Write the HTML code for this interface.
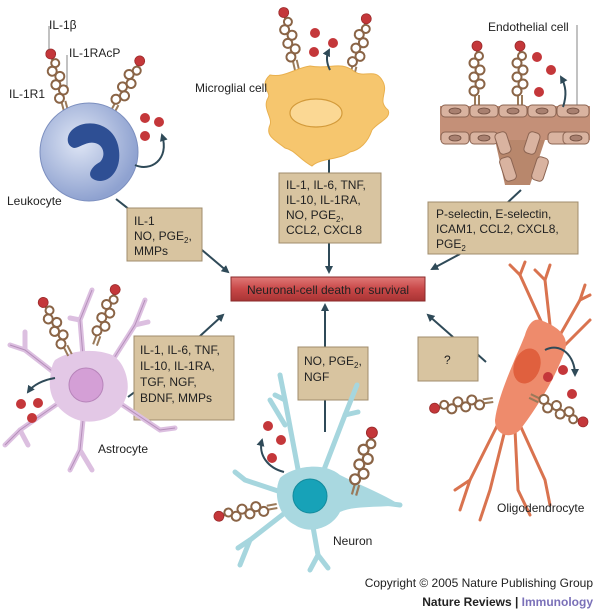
<!DOCTYPE html>
<html><head><meta charset="utf-8"><style>
html,body{margin:0;padding:0;background:#fff}
svg{display:block}
text{font-family:"Liberation Sans",sans-serif;fill:#222}
</style></head><body>
<svg width="600" height="616" viewBox="0 0 600 616" xmlns="http://www.w3.org/2000/svg">
<defs>
<g id="rc">
<line x1="-2" y1="0" x2="-2" y2="-10" stroke="#9a7a5a" stroke-width="2"/>
<line x1="2" y1="0" x2="2" y2="-10" stroke="#9a7a5a" stroke-width="2"/>
<g fill="#fff" stroke="#8a6446" stroke-width="2">
<circle cx="-3" cy="-14" r="4.5"/><circle cx="3" cy="-21" r="4.5"/>
<circle cx="-3" cy="-28" r="4.5"/><circle cx="3" cy="-35" r="4.5"/>
<circle cx="-3" cy="-42" r="4.5"/><circle cx="2" cy="-49" r="4"/>
</g>
<line x1="0" y1="-53" x2="0" y2="-56" stroke="#8a6446" stroke-width="2"/>
<circle cx="0" cy="-59" r="5" fill="#c4373a" stroke="#9a2a2a" stroke-width="0.8"/>
</g>
<radialGradient id="lg" cx="0.4" cy="0.4" r="0.6"><stop offset="0" stop-color="#dfe6f5"/><stop offset="1" stop-color="#8fa2d0"/></radialGradient>
<linearGradient id="rg" x1="0" y1="0" x2="0" y2="1"><stop offset="0" stop-color="#e07a78"/><stop offset="0.5" stop-color="#c84848"/><stop offset="1" stop-color="#a83434"/></linearGradient>
<marker id="ah" markerWidth="8" markerHeight="8" refX="6" refY="4" orient="auto" markerUnits="userSpaceOnUse"><path d="M0,0 L8,4 L0,8 z" fill="#2f4a58"/></marker>
</defs>

<!-- arrows (behind boxes) -->
<g stroke="#2f4a58" stroke-width="2" fill="none">
<line x1="116" y1="199" x2="130" y2="210"/>
<line x1="202" y1="250" x2="228" y2="272" marker-end="url(#ah)"/>
<line x1="329" y1="158" x2="329" y2="175"/>
<line x1="329" y1="243" x2="329" y2="272" marker-end="url(#ah)"/>
<line x1="521" y1="190" x2="506" y2="204"/>
<line x1="460" y1="254" x2="432" y2="269" marker-end="url(#ah)"/>
<line x1="200" y1="336" x2="223" y2="315" marker-end="url(#ah)"/>
<line x1="325" y1="432" x2="325" y2="305" marker-end="url(#ah)"/>
<line x1="453" y1="337" x2="428" y2="315" marker-end="url(#ah)"/>
<line x1="128" y1="397" x2="136" y2="391"/>
<line x1="486" y1="362" x2="476" y2="353"/>
</g>

<!-- Leukocyte -->
<use href="#rc" transform="translate(66,111) rotate(-15)"/>
<use href="#rc" transform="translate(112,113) rotate(28)"/>
<circle cx="89" cy="152" r="49" fill="url(#lg)" stroke="#7c8fbf" stroke-width="1"/>
<path d="M72,130 C85,118 112,122 118,145 C124,170 108,185 95,180 C85,176 92,166 100,162 C106,156 104,145 95,143 C86,141 80,148 74,148 C66,146 66,136 72,130 z" fill="#2e4f94"/>
<circle cx="145" cy="118" r="5" fill="#c4373a"/><circle cx="159" cy="122" r="5" fill="#c4373a"/><circle cx="145" cy="136" r="5" fill="#c4373a"/>
<path d="M135,165 C150,172 170,160 162,135" fill="none" stroke="#2f4a58" stroke-width="2" marker-end="url(#ah)"/>
<text x="7" y="205" font-size="12">Leukocyte</text>
<text x="49" y="29" font-size="12">IL-1β</text>
<line x1="49" y1="26" x2="49" y2="50" stroke="#666" stroke-width="0.8"/>
<text x="69" y="57" font-size="12">IL-1RAcP</text>
<line x1="67" y1="55" x2="67" y2="86" stroke="#666" stroke-width="0.8"/>
<text x="9" y="98" font-size="12">IL-1R1</text>

<!-- Microglia -->
<use href="#rc" transform="translate(297,70) rotate(-13)"/>
<use href="#rc" transform="translate(352,76) rotate(14)"/>
<path d="M270,75 C285,78 295,68 310,66 C330,70 340,60 355,72 C365,78 375,68 382,80 C390,92 376,100 388,110 C392,118 378,122 372,130 C368,142 360,150 350,152 C340,160 320,158 312,166 C300,160 295,150 285,148 C275,140 265,136 270,125 C273,118 262,108 268,98 C272,92 258,86 270,75 z" fill="#f6c66e" stroke="#e9b04e" stroke-width="1"/>
<ellipse cx="316" cy="113" rx="26" ry="14" fill="#fbd894" stroke="#d39a3a" stroke-width="1.2"/>
<circle cx="315" cy="33" r="5" fill="#c4373a"/><circle cx="314" cy="52" r="5" fill="#c4373a"/><circle cx="333" cy="43" r="5" fill="#c4373a"/>
<path d="M330,70 C326,62 326,56 329,50" fill="none" stroke="#2f4a58" stroke-width="2" marker-end="url(#ah)"/>
<text x="195" y="92" font-size="12">Microglial cell</text>

<!-- Endothelial -->
<use href="#rc" transform="translate(477,105)"/>
<use href="#rc" transform="translate(520,105)"/>
<text x="488" y="31" font-size="12">Endothelial cell</text>
<line x1="577" y1="25" x2="577" y2="107" stroke="#666" stroke-width="0.8"/>
<path d="M495,140 L545,140 L530,185 L505,185 z" fill="#b8876c"/>
<rect x="440" y="106" width="150" height="34" fill="#c49078"/>
<g fill="#d9b3a0" stroke="#8b6452" stroke-width="1">
<rect x="441" y="105" width="28" height="12" rx="4"/><rect x="470" y="105" width="28" height="12" rx="4"/><rect x="499" y="105" width="28" height="12" rx="4"/><rect x="528" y="105" width="28" height="12" rx="4"/><rect x="557" y="105" width="32" height="12" rx="4"/>
<rect x="441" y="132" width="28" height="12" rx="4"/><rect x="470" y="132" width="28" height="12" rx="4"/><rect x="548" y="132" width="28" height="12" rx="4"/><rect x="563" y="132" width="26" height="12" rx="4"/>
<rect x="497" y="132" width="12" height="22" rx="4" transform="rotate(-18 503 143)"/><rect x="502" y="157" width="12" height="24" rx="4" transform="rotate(-18 508 169)"/>
<rect x="526" y="132" width="12" height="22" rx="4" transform="rotate(18 532 143)"/><rect x="534" y="157" width="12" height="24" rx="4" transform="rotate(18 540 169)"/>
</g>
<g fill="#a88070" stroke="#6e4c3e" stroke-width="0.8">
<ellipse cx="455" cy="111" rx="6" ry="3"/><ellipse cx="484" cy="111" rx="6" ry="3"/><ellipse cx="513" cy="111" rx="6" ry="3"/><ellipse cx="542" cy="111" rx="6" ry="3"/><ellipse cx="573" cy="111" rx="6" ry="3"/>
<ellipse cx="455" cy="138" rx="6" ry="3"/><ellipse cx="484" cy="138" rx="6" ry="3"/><ellipse cx="576" cy="138" rx="6" ry="3"/>
</g>
<circle cx="537" cy="57" r="5" fill="#c4373a"/><circle cx="551" cy="70" r="5" fill="#c4373a"/><circle cx="539" cy="92" r="5" fill="#c4373a"/>
<path d="M563,107 C567,95 566,86 561,77" fill="none" stroke="#2f4a58" stroke-width="2" marker-end="url(#ah)"/>

<!-- Boxes -->
<g fill="#d8c4a0" stroke="#a08c6c" stroke-width="1">
<rect x="127" y="208" width="75" height="53"/>
<rect x="279" y="173" width="102" height="70"/>
<rect x="428" y="202" width="150" height="52"/>
<rect x="134" y="336" width="100" height="84"/>
<rect x="298" y="347" width="70" height="53"/>
<rect x="418" y="337" width="60" height="44"/>
</g>
<g font-size="12">
<text x="134" y="225">IL-1</text>
<text x="134" y="240">NO, PGE<tspan font-size="8" dy="3">2</tspan><tspan dy="-3">,</tspan></text>
<text x="134" y="255">MMPs</text>
<text x="286" y="189">IL-1, IL-6, TNF,</text>
<text x="286" y="204">IL-10, IL-1RA,</text>
<text x="286" y="219">NO, PGE<tspan font-size="8" dy="3">2</tspan><tspan dy="-3">,</tspan></text>
<text x="286" y="234">CCL2, CXCL8</text>
<text x="436" y="218">P-selectin, E-selectin,</text>
<text x="436" y="233">ICAM1, CCL2, CXCL8,</text>
<text x="436" y="248">PGE<tspan font-size="8" dy="3">2</tspan></text>
<text x="140" y="354">IL-1, IL-6, TNF,</text>
<text x="140" y="370">IL-10, IL-1RA,</text>
<text x="140" y="386">TGF, NGF,</text>
<text x="140" y="402">BDNF, MMPs</text>
<text x="304" y="365">NO, PGE<tspan font-size="8" dy="3">2</tspan><tspan dy="-3">,</tspan></text>
<text x="304" y="381">NGF</text>
<text x="444" y="364">?</text>
</g>

<!-- central box -->
<rect x="231" y="277" width="194" height="24" fill="url(#rg)" stroke="#8a2a2a" stroke-width="1"/>
<text x="328" y="294" font-size="12" text-anchor="middle">Neuronal-cell death or survival</text>

<!-- Astrocyte -->
<g fill="none" stroke="#dcbfe0" stroke-width="5" stroke-linecap="round">
<path d="M85,380 L80,320 L92,290"/><path d="M80,320 L70,318"/>
<path d="M70,385 L25,350 L10,345"/><path d="M25,350 L25,332"/>
<path d="M70,395 L20,430 L5,445"/><path d="M20,430 L28,445"/>
<path d="M85,400 L80,450 L70,470"/><path d="M80,450 L92,470"/>
<path d="M100,380 L135,325 L145,300"/><path d="M135,325 L148,322"/>
<path d="M100,390 L160,430 L175,428"/>
</g>
<g fill="none" stroke="#b58fba" stroke-width="1">
<path d="M85,380 L80,320 L92,290"/><path d="M70,385 L25,350 L10,345"/><path d="M70,395 L20,430 L5,445"/><path d="M85,400 L80,450 L70,470"/><path d="M100,380 L135,325 L145,300"/><path d="M100,390 L160,430 L175,428"/>
</g>
<path d="M55,360 C70,350 95,348 112,355 C125,362 132,385 125,400 C118,418 95,425 78,420 C60,414 48,398 50,380 C51,370 52,364 55,360 z" fill="#e3c8e6"/>
<circle cx="86" cy="385" r="17" fill="#d49fd6" stroke="#b784ba"/>
<use href="#rc" transform="translate(70,355) rotate(-27)"/>
<use href="#rc" transform="translate(95,345) rotate(20)"/>
<circle cx="21" cy="404" r="5" fill="#c4373a"/><circle cx="38" cy="403" r="5" fill="#c4373a"/><circle cx="32" cy="418" r="5" fill="#c4373a"/>
<path d="M55,378 C43,380 33,385 28,392" fill="none" stroke="#2f4a58" stroke-width="2" marker-end="url(#ah)"/>
<text x="98" y="453" font-size="12">Astrocyte</text>

<!-- Neuron -->
<g fill="none" stroke="#a6d6de" stroke-width="5" stroke-linecap="round">
<path d="M300,480 L285,400 L280,375"/><path d="M285,400 L275,395"/><path d="M285,425 L270,400"/>
<path d="M320,480 L345,415 L357,385"/><path d="M345,415 L358,412"/>
<path d="M290,495 L245,480 L235,472"/>
<path d="M295,505 L250,540 L240,565"/><path d="M250,540 L238,548"/>
<path d="M310,510 L318,555 L310,570"/><path d="M318,555 L328,568"/>
<path d="M320,495 L400,505"/>
</g>
<path d="M280,478 C295,465 325,462 340,475 C360,485 385,495 400,505 C380,508 355,505 340,512 C332,528 310,535 295,525 C280,518 272,495 280,478 z" fill="#a9d8e0"/>
<circle cx="310" cy="496" r="17" fill="#17a2b8" stroke="#138a9c"/>
<use href="#rc" transform="translate(354,495) rotate(16) scale(1.1)"/>
<use href="#rc" transform="translate(277,506) rotate(-100)"/>
<circle cx="268" cy="426" r="5" fill="#c4373a"/><circle cx="281" cy="440" r="5" fill="#c4373a"/><circle cx="272" cy="458" r="5" fill="#c4373a"/>
<path d="M284,472 C268,468 258,455 262,440" fill="none" stroke="#2f4a58" stroke-width="2" marker-end="url(#ah)"/>
<text x="333" y="545" font-size="12">Neuron</text>

<!-- Oligodendrocyte -->
<g fill="none" stroke="#d9734f" stroke-width="3" stroke-linecap="round">
<path d="M545,330 L520,275 L510,265"/><path d="M520,275 L525,262"/>
<path d="M550,325 L545,280 L550,265"/><path d="M545,280 L535,270"/>
<path d="M560,335 L580,300 L585,285"/><path d="M580,300 L590,295"/>
<path d="M565,345 L590,320"/>
<path d="M500,420 L470,480 L460,510"/><path d="M470,480 L455,490"/>
<path d="M505,430 L490,490 L480,520"/>
<path d="M515,430 L518,490 L530,515"/>
<path d="M520,425 L545,480 L550,505"/>
</g>
<path d="M540,320 C555,325 570,335 565,350 C555,380 535,410 520,430 C510,440 495,435 495,420 C498,395 515,360 525,335 C528,325 533,318 540,320 z" fill="#ee8b6c"/>
<ellipse cx="527" cy="366" rx="13" ry="18" fill="#e0603e" transform="rotate(20 527 366)"/>
<use href="#rc" transform="translate(493,400) rotate(-98)"/>
<use href="#rc" transform="translate(530,396) rotate(116)"/>
<circle cx="548" cy="377" r="5" fill="#c4373a"/><circle cx="563" cy="370" r="5" fill="#c4373a"/><circle cx="572" cy="394" r="5" fill="#c4373a"/>
<path d="M545,350 C560,342 575,355 575,375" fill="none" stroke="#2f4a58" stroke-width="2" marker-end="url(#ah)"/>
<text x="497" y="512" font-size="12">Oligodendrocyte</text>

<!-- Copyright -->
<text x="593" y="587" font-size="12" text-anchor="end" fill="#333">Copyright © 2005 Nature Publishing Group</text>
<text x="593" y="606" font-size="12" text-anchor="end" font-weight="bold">Nature Reviews | <tspan fill="#7a70b8">Immunology</tspan></text>
</svg>
</body></html>
